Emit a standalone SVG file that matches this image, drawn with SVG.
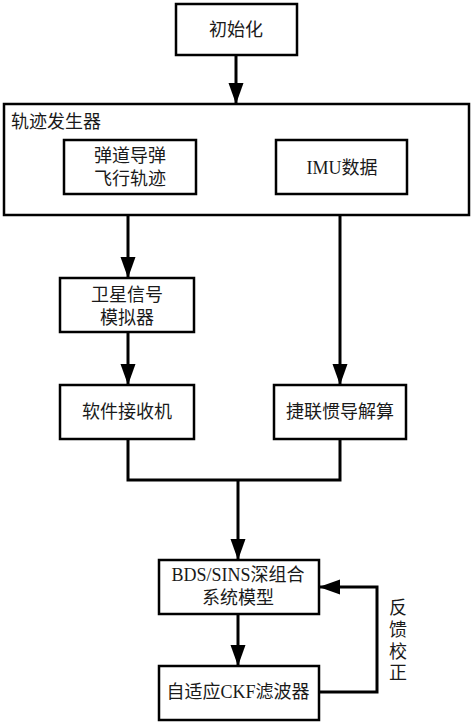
<svg xmlns="http://www.w3.org/2000/svg" width="474" height="724" viewBox="0 0 474 724">
<style>
.box{fill:#fff;stroke:#000;stroke-width:2.5}
.t{font-family:"Liberation Serif","Noto Sans CJK SC",sans-serif;font-size:18px;fill:#1a1a1a;text-anchor:middle;dominant-baseline:central}
.l{text-anchor:start}
.c{fill:none;stroke:#000;stroke-width:3}
</style>
<defs>
<marker id="ah" markerUnits="userSpaceOnUse" markerWidth="21" markerHeight="22" viewBox="0 0 21 22" refX="21" refY="11" orient="auto">
<path d="M0,3.5 L21,11 L0,18.5 Z" fill="#000"/>
</marker>
</defs>
<rect width="474" height="724" fill="#fff"/>
<g id="connectors">
<line class="c" x1="236" y1="55" x2="236" y2="104" marker-end="url(#ah)"/>
<line class="c" x1="128" y1="215" x2="128" y2="278" marker-end="url(#ah)"/>
<line class="c" x1="128" y1="332" x2="128" y2="385" marker-end="url(#ah)"/>
<line class="c" x1="340" y1="215" x2="340" y2="385" marker-end="url(#ah)"/>
<polyline class="c" points="128,439 128,480 340,480 340,439"/>
<line class="c" x1="238" y1="480" x2="238" y2="560" marker-end="url(#ah)"/>
<line class="c" x1="238" y1="614" x2="238" y2="666" marker-end="url(#ah)"/>
<polyline class="c" points="319,692 377,692 377,587 319,587" marker-end="url(#ah)"/>
</g>
<g id="init">
<rect class="box" x="176" y="4" width="121" height="51"/>
<text class="t" x="236" y="30">初始化</text>
</g>
<g id="trajgen">
<rect class="box" x="4" y="104" width="465" height="111"/>
<text class="t l" x="11" y="122">轨迹发生器</text>
</g>
<g id="missile">
<rect class="box" x="64" y="140" width="132" height="54"/>
<text class="t" x="130" y="156">弹道导弹</text>
<text class="t" x="130" y="179">飞行轨迹</text>
</g>
<g id="imu">
<rect class="box" x="276" y="140" width="131" height="54"/>
<text class="t" x="342" y="168">IMU数据</text>
</g>
<g id="sat">
<rect class="box" x="60" y="278" width="134" height="54"/>
<text class="t" x="127" y="295">卫星信号</text>
<text class="t" x="127" y="318">模拟器</text>
</g>
<g id="receiver">
<rect class="box" x="60" y="385" width="134" height="54"/>
<text class="t" x="127" y="412">软件接收机</text>
</g>
<g id="sins">
<rect class="box" x="274" y="385" width="132" height="54"/>
<text class="t" x="340" y="412">捷联惯导解算</text>
</g>
<g id="model">
<rect class="box" x="159" y="560" width="160" height="54"/>
<text class="t" x="238" y="575">BDS/SINS深组合</text>
<text class="t" x="238" y="598">系统模型</text>
</g>
<g id="ckf">
<rect class="box" x="159" y="666" width="160" height="54"/>
<text class="t" x="238" y="692">自适应CKF滤波器</text>
</g>
<g id="feedback-label">
<text class="t" x="398" y="608">反</text>
<text class="t" x="398" y="630">馈</text>
<text class="t" x="398" y="652">校</text>
<text class="t" x="398" y="673">正</text>
</g>
</svg>
